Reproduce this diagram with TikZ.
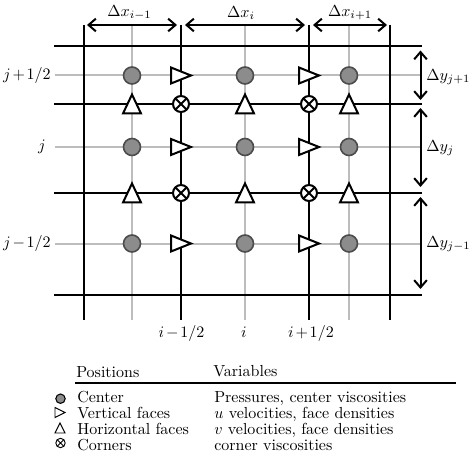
\documentclass[tikz,border=0pt]{standalone}
\usetikzlibrary{arrows.meta}
\newcommand{\mytx}[1]{\scalebox{1.2}{#1}}
\begin{document}
\begin{tikzpicture}[x=0.75pt,y=-0.75pt,
  blk/.style={line width=1.6pt,black},
  gry/.style={line width=1.5pt,color=black!26},
  dimarrow/.style={line width=1.5pt,{Straight Barb[length=5.5pt,width=9.5pt]}-{Straight Barb[length=5.5pt,width=9.5pt]}},
  lab/.style={inner sep=0pt},
  cen/.style={circle,draw=black!70,fill=black!45,line width=1.2pt,minimum size=17pt*0.75,inner sep=0pt},
  mk/.style={line width=1.5pt,fill=white,draw=black},
  lg/.style={line width=0.7pt,draw=black}
]
\useasboundingbox (0,0) rectangle (474,470);
% grey lines
\foreach \x in {132,245,349} \draw[gry] (\x,25) -- (\x,320);
\foreach \y in {75.5,147,243.5} \draw[gry] (55,\y) -- (422,\y);
% black lines
\foreach \x in {84,181,309,390} \draw[blk] (\x,25) -- (\x,320);
\foreach \y in {46,104,193,295} \draw[blk] (54,\y) -- (422,\y);
% centers
\foreach \x in {132,245,349} \foreach \y in {75.5,147,243.5}
  \node[cen] (c-\x-\y) at (\x,\y) {};
% vertical faces
\foreach \x in {181,309} \foreach \y in {75.5,147,243.5}
  \draw[mk] (\x-10,\y-8) -- (\x+10,\y) -- (\x-10,\y+8) -- cycle;
% horizontal faces
\foreach \x in {132,245,349} \foreach \y in {104,193}
  \draw[mk] (\x-9,\y+9.5) -- (\x,\y-9.5) -- (\x+9,\y+9.5) -- cycle;
% corners
\foreach \x in {181,309} \foreach \y in {104,193} {
  \draw[mk] (\x,\y) circle[radius=8];
  \draw[line width=1.5pt] (\x-5.66,\y-5.66) -- (\x+5.66,\y+5.66) (\x-5.66,\y+5.66) -- (\x+5.66,\y-5.66);
}
% dimension arrows
\coordinate (ax1) at (87,25); \coordinate (ax2) at (177,25);
\coordinate (bx1) at (185,25); \coordinate (bx2) at (305,25);
\coordinate (cx1) at (313,25); \coordinate (cx2) at (387,25);
\draw[dimarrow] (ax1) -- (ax2);
\draw[dimarrow] (bx1) -- (bx2);
\draw[dimarrow] (cx1) -- (cx2);
\node[lab] (dx1) at (129.5,13) {\mytx{$\Delta x_{i-1}$}};
\node[lab] (dx2) at (241,13) {\mytx{$\Delta x_{i}$}};
\node[lab] (dx3) at (350,13) {\mytx{$\Delta x_{i+1}$}};
\coordinate (ay1) at (420.5,50.5); \coordinate (ay2) at (420.5,100);
\coordinate (by1) at (420.5,108); \coordinate (by2) at (420.5,187);
\coordinate (cy1) at (420.5,197); \coordinate (cy2) at (420.5,289);
\draw[dimarrow] (ay1) -- (ay2);
\draw[dimarrow] (by1) -- (by2);
\draw[dimarrow] (cy1) -- (cy2);
\node[lab,anchor=west] (dy1) at (426,77) {\mytx{$\Delta y_{j+1}$}};
\node[lab,anchor=west] (dy2) at (426,148) {\mytx{$\Delta y_{j}$}};
\node[lab,anchor=west] (dy3) at (426,244) {\mytx{$\Delta y_{j-1}$}};
% row / column labels
\node[lab,anchor=east] (r1) at (51,75.5) {\mytx{$j\mkern2mu{+}\mkern2mu1/2$}};
\node[lab,anchor=east] (r2) at (46,147) {\mytx{$j$}};
\node[lab,anchor=east] (r3) at (51,243.5) {\mytx{$j\mkern2mu{-}\mkern2mu1/2$}};
\node[lab,anchor=base] (k1) at (181.5,337) {\mytx{$i\mkern2mu{-}\mkern2mu1/2$}};
\node[lab,anchor=base] (k2) at (244,337) {\mytx{$i$}};
\node[lab,anchor=base] (k3) at (311,337) {\mytx{$i\mkern2mu{+}\mkern2mu1/2$}};
% legend
\node[lab,anchor=base west] (h1) at (76,377) {\mytx{Positions}};
\node[lab,anchor=base west] (h2) at (213,376) {\mytx{Variables}};
\draw[line width=0.8pt] (75,383) -- (456,383);
\node[circle,draw=black,fill=black!45,line width=0.8pt,minimum size=9.4pt*0.75,inner sep=0pt] (s1) at (60.5,398.7) {};
\draw[lg] (55,407.5) -- (65,412.5) -- (55,417.5) -- cycle;
\draw[lg] (55,433) -- (60,423) -- (65,433) -- cycle;
\draw[lg] (60.5,443) circle[radius=4.7];
\draw[lg] (60.5-3.3,443-3.3) -- (60.5+3.3,443+3.3) (60.5-3.3,443+3.3) -- (60.5+3.3,443-3.3);
\node[lab,anchor=base west] (p1) at (77,402) {\mytx{Center}};
\node[lab,anchor=base west] (p2) at (77,418) {\mytx{Vertical faces}};
\node[lab,anchor=base west] (p3) at (77,434) {\mytx{Horizontal faces}};
\node[lab,anchor=base west] (p4) at (77,450) {\mytx{Corners}};
\node[lab,anchor=base west] (v1) at (214,402) {\mytx{Pressures, center viscosities}};
\node[lab,anchor=base west] (v2) at (214,418) {\mytx{$u$ velocities, face densities}};
\node[lab,anchor=base west] (v3) at (214,434) {\mytx{$v$ velocities, face densities}};
\node[lab,anchor=base west] (v4) at (214,450) {\mytx{corner viscosities}};
\end{tikzpicture}
\end{document}
